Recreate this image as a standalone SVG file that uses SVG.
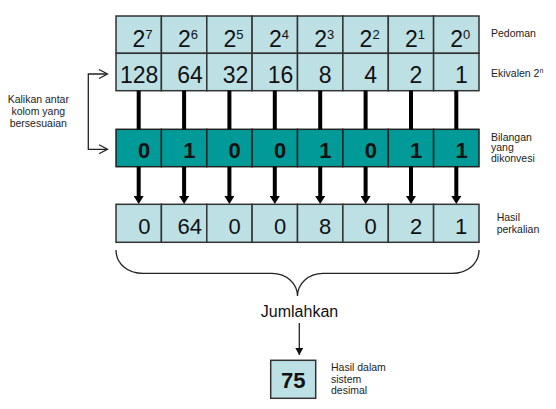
<svg xmlns="http://www.w3.org/2000/svg" width="556" height="409" viewBox="0 0 556 409">
<style>
.light{fill:#bde0e4;stroke:#333;stroke-width:1.5}
.teal{fill:#009a99;stroke:#222;stroke-width:1.5}
.big{font-family:"Liberation Sans",Arial,sans-serif;font-size:23px;fill:#111;text-anchor:middle}
.prod{font-family:"Liberation Sans",Arial,sans-serif;font-size:22px;fill:#111;text-anchor:middle}
.bit{font-family:"Liberation Sans",Arial,sans-serif;font-size:22px;font-weight:bold;fill:#111;text-anchor:middle}
.lbl{font-family:"Liberation Sans",Arial,sans-serif;font-size:10.5px;fill:#222}
.thick{stroke:#000;stroke-width:4;fill:none}
.thin{stroke:#222;stroke-width:1.3;fill:none}
</style>
<defs>
<marker id="ah" viewBox="0 0 8 10" refX="1" refY="5" markerWidth="8" markerHeight="10" markerUnits="userSpaceOnUse" orient="auto">
<path d="M0,0 L8,5 L0,10 z" fill="#000"/>
</marker>
<marker id="ahs" viewBox="0 0 7 8" refX="7" refY="4" markerWidth="7" markerHeight="8" markerUnits="userSpaceOnUse" orient="auto">
<path d="M0,0 L7,4 L0,8 z" fill="#111"/>
</marker>
</defs>
<rect width="556" height="409" fill="#fff"/>

<g id="pedoman">
<rect class="light" x="116" y="16" width="45.4" height="37.3"/>
<rect class="light" x="161.4" y="16" width="45.4" height="37.3"/>
<rect class="light" x="206.8" y="16" width="45.3" height="37.3"/>
<rect class="light" x="252.1" y="16" width="45.4" height="37.3"/>
<rect class="light" x="297.5" y="16" width="45.4" height="37.3"/>
<rect class="light" x="342.9" y="16" width="45.4" height="37.3"/>
<rect class="light" x="388.3" y="16" width="45.3" height="37.3"/>
<rect class="light" x="433.6" y="16" width="45.4" height="37.3"/>
<text class="big" x="142.5" y="46.7">2<tspan font-size="13" dy="-7.4">7</tspan></text>
<text class="big" x="188" y="46.7">2<tspan font-size="13" dy="-7.4">6</tspan></text>
<text class="big" x="233.5" y="46.7">2<tspan font-size="13" dy="-7.4">5</tspan></text>
<text class="big" x="279" y="46.7">2<tspan font-size="13" dy="-7.4">4</tspan></text>
<text class="big" x="324.3" y="46.7">2<tspan font-size="13" dy="-7.4">3</tspan></text>
<text class="big" x="369.6" y="46.7">2<tspan font-size="13" dy="-7.4">2</tspan></text>
<text class="big" x="415" y="46.7">2<tspan font-size="13" dy="-7.4">1</tspan></text>
<text class="big" x="460.3" y="46.7">2<tspan font-size="13" dy="-7.4">0</tspan></text>
</g>

<g id="ekivalen">
<rect class="light" x="116" y="53.3" width="45.4" height="37.4"/>
<rect class="light" x="161.4" y="53.3" width="45.4" height="37.4"/>
<rect class="light" x="206.8" y="53.3" width="45.3" height="37.4"/>
<rect class="light" x="252.1" y="53.3" width="45.4" height="37.4"/>
<rect class="light" x="297.5" y="53.3" width="45.4" height="37.4"/>
<rect class="light" x="342.9" y="53.3" width="45.4" height="37.4"/>
<rect class="light" x="388.3" y="53.3" width="45.3" height="37.4"/>
<rect class="light" x="433.6" y="53.3" width="45.4" height="37.4"/>
<text class="big" x="139.2" y="83.3">128</text>
<text class="big" x="190" y="83.3">64</text>
<text class="big" x="235.5" y="83.3">32</text>
<text class="big" x="280.5" y="83.3">16</text>
<text class="big" x="325.2" y="83.3">8</text>
<text class="big" x="370.6" y="83.3">4</text>
<text class="big" x="416" y="83.3">2</text>
<text class="big" x="461.3" y="83.3">1</text>
</g>

<g id="biner">
<rect class="teal" x="116" y="129.3" width="45.4" height="37.4"/>
<rect class="teal" x="161.4" y="129.3" width="45.4" height="37.4"/>
<rect class="teal" x="206.8" y="129.3" width="45.3" height="37.4"/>
<rect class="teal" x="252.1" y="129.3" width="45.4" height="37.4"/>
<rect class="teal" x="297.5" y="129.3" width="45.4" height="37.4"/>
<rect class="teal" x="342.9" y="129.3" width="45.4" height="37.4"/>
<rect class="teal" x="388.3" y="129.3" width="45.3" height="37.4"/>
<rect class="teal" x="433.6" y="129.3" width="45.4" height="37.4"/>
<text class="bit" x="144" y="158.3">0</text>
<text class="bit" x="189.3" y="158.3">1</text>
<text class="bit" x="234.6" y="158.3">0</text>
<text class="bit" x="280" y="158.3">0</text>
<text class="bit" x="325.4" y="158.3">1</text>
<text class="bit" x="370.8" y="158.3">0</text>
<text class="bit" x="416.2" y="158.3">1</text>
<text class="bit" x="461.5" y="158.3">1</text>
</g>

<g id="hasil">
<rect class="light" x="116" y="204.3" width="45.4" height="38"/>
<rect class="light" x="161.4" y="204.3" width="45.4" height="38"/>
<rect class="light" x="206.8" y="204.3" width="45.3" height="38"/>
<rect class="light" x="252.1" y="204.3" width="45.4" height="38"/>
<rect class="light" x="297.5" y="204.3" width="45.4" height="38"/>
<rect class="light" x="342.9" y="204.3" width="45.4" height="38"/>
<rect class="light" x="388.3" y="204.3" width="45.3" height="38"/>
<rect class="light" x="433.6" y="204.3" width="45.4" height="38"/>
<text class="prod" x="144.3" y="234">0</text>
<text class="prod" x="189.7" y="234">64</text>
<text class="prod" x="234.6" y="234">0</text>
<text class="prod" x="280" y="234">0</text>
<text class="prod" x="325" y="234">8</text>
<text class="prod" x="370.6" y="234">0</text>
<text class="prod" x="416" y="234">2</text>
<text class="prod" x="461" y="234">1</text>
</g>

<g id="total">
<rect class="light" x="270.7" y="360.3" width="45" height="38"/>
<text class="bit" x="293.3" y="387.5" font-size="24">75</text>
</g>

<g id="labels">
<text class="lbl" x="491" y="37.3">Pedoman</text>
<text class="lbl" x="491" y="77.3">Ekivalen 2<tspan font-size="7" dy="-4">n</tspan></text>
<text class="lbl" x="491" y="140.5">Bilangan</text>
<text class="lbl" x="491" y="151.1">yang</text>
<text class="lbl" x="491" y="161.7">dikonvesi</text>
<text class="lbl" x="496.7" y="221.3">Hasil</text>
<text class="lbl" x="496.7" y="233.3">perkalian</text>
<text class="lbl" x="331" y="371">Hasil dalam</text>
<text class="lbl" x="331" y="382.5">sistem</text>
<text class="lbl" x="331" y="394">desimal</text>
<text class="lbl" x="38.3" y="103.3" text-anchor="middle">Kalikan antar</text>
<text class="lbl" x="38.3" y="115" text-anchor="middle">kolom yang</text>
<text class="lbl" x="38.3" y="126.7" text-anchor="middle">bersesuaian</text>
<text x="299.5" y="316.7" font-family="Liberation Sans, Arial, sans-serif" font-size="16" fill="#111" text-anchor="middle">Jumlahkan</text>
</g>

<g id="connectors">
<line class="thick" x1="138.7" y1="90.7" x2="138.7" y2="129.3"/>
<line class="thick" x1="184.1" y1="90.7" x2="184.1" y2="129.3"/>
<line class="thick" x1="229.4" y1="90.7" x2="229.4" y2="129.3"/>
<line class="thick" x1="274.8" y1="90.7" x2="274.8" y2="129.3"/>
<line class="thick" x1="320.2" y1="90.7" x2="320.2" y2="129.3"/>
<line class="thick" x1="365.6" y1="90.7" x2="365.6" y2="129.3"/>
<line class="thick" x1="411" y1="90.7" x2="411" y2="129.3"/>
<line class="thick" x1="456.3" y1="90.7" x2="456.3" y2="129.3"/>

<line class="thick" x1="138.7" y1="166.7" x2="138.7" y2="197" marker-end="url(#ah)"/>
<line class="thick" x1="184.1" y1="166.7" x2="184.1" y2="197" marker-end="url(#ah)"/>
<line class="thick" x1="229.4" y1="166.7" x2="229.4" y2="197" marker-end="url(#ah)"/>
<line class="thick" x1="274.8" y1="166.7" x2="274.8" y2="197" marker-end="url(#ah)"/>
<line class="thick" x1="320.2" y1="166.7" x2="320.2" y2="197" marker-end="url(#ah)"/>
<line class="thick" x1="365.6" y1="166.7" x2="365.6" y2="197" marker-end="url(#ah)"/>
<line class="thick" x1="411" y1="166.7" x2="411" y2="197" marker-end="url(#ah)"/>
<line class="thick" x1="456.3" y1="166.7" x2="456.3" y2="197" marker-end="url(#ah)"/>

<path class="thin" d="M107,74 L88.3,74 L88.3,149.3 L107,149.3" stroke-width="1.6"/>
<polyline class="thin" points="99,69.5 107.5,74 99,78.5" stroke-width="1.6"/>
<polyline class="thin" points="99,144.8 107.5,149.3 99,153.8" stroke-width="1.6"/>

<path class="thin" d="M116,250 C116,264 128,273.3 143,273.3 L272,273.3 C287,273.3 297.5,284 297.5,296 C297.5,284 308,273.3 323,273.3 L452,273.3 C467,273.3 479,264 479,250" stroke-width="1.2"/>

<line class="thin" x1="299.3" y1="323" x2="299.3" y2="355" stroke-width="1.2" marker-end="url(#ahs)"/>
</g>
</svg>
